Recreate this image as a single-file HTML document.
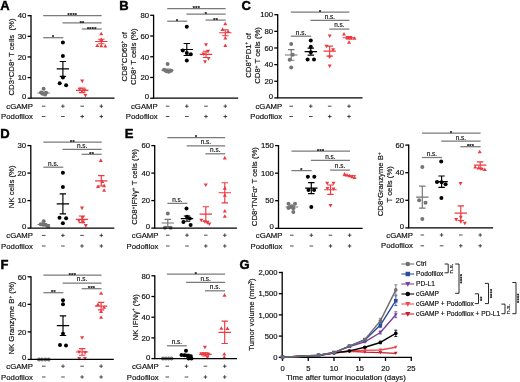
<!DOCTYPE html>
<html><head><meta charset="utf-8"><title>Figure</title>
<style>html,body{margin:0;padding:0;background:#fff}svg{display:block}text{font-family:"Liberation Sans", Arial, sans-serif;white-space:pre;stroke:#111;stroke-width:.18px}text.L{stroke:#000;stroke-width:.45px}</style>
</head><body>
<svg width="520" height="382" viewBox="0 0 520 382" fill="#111">
<rect width="520" height="382" fill="#fff"/>
<line x1="27.60" y1="98.20" x2="31" y2="98.20" stroke="#000" stroke-width="1.3"/>
<text x="26.40" y="99.20" text-anchor="end" font-size="7.75">0</text>
<line x1="27.60" y1="77.58" x2="31" y2="77.58" stroke="#000" stroke-width="1.3"/>
<text x="26.40" y="80.33" text-anchor="end" font-size="7.75">10</text>
<line x1="27.60" y1="56.95" x2="31" y2="56.95" stroke="#000" stroke-width="1.3"/>
<text x="26.40" y="59.70" text-anchor="end" font-size="7.75">20</text>
<line x1="27.60" y1="36.33" x2="31" y2="36.33" stroke="#000" stroke-width="1.3"/>
<text x="26.40" y="39.08" text-anchor="end" font-size="7.75">30</text>
<line x1="27.60" y1="15.70" x2="31" y2="15.70" stroke="#000" stroke-width="1.3"/>
<text x="26.40" y="18.45" text-anchor="end" font-size="7.75">40</text>
<text transform="translate(14.0,56.95) rotate(-90)" text-anchor="middle" font-size="7.75">CD3<tspan dy="-2.5" font-size="4.65">+</tspan><tspan dy="2.5">CD8</tspan><tspan dy="-2.5" font-size="4.65">+</tspan><tspan dy="2.5"> T cells  (%)</tspan></text>
<text x="0.2" y="9.8" class="L" font-size="13" font-weight="bold" fill="#000">A</text>
<circle cx="43.60" cy="88.71" r="2.0" fill="#747474"/>
<circle cx="41.10" cy="92.42" r="2.0" fill="#747474"/>
<circle cx="46.10" cy="92.84" r="2.0" fill="#747474"/>
<circle cx="42.60" cy="93.66" r="2.0" fill="#747474"/>
<circle cx="45.10" cy="94.49" r="2.0" fill="#747474"/>
<path d="M37.40,93.04 H49.80 M43.6,92.01 V94.08 M40.40,92.01 H46.80 M40.40,94.08 H46.80" fill="none" stroke="#747474" stroke-width="1.15"/>
<circle cx="62.90" cy="42.51" r="2.0" fill="#000000"/>
<circle cx="62.90" cy="55.92" r="2.0" fill="#000000"/>
<circle cx="62.90" cy="77.58" r="2.0" fill="#000000"/>
<circle cx="59.70" cy="83.14" r="2.0" fill="#000000"/>
<circle cx="66.10" cy="85.21" r="2.0" fill="#000000"/>
<path d="M56.70,68.91 H69.10 M62.9,61.49 V76.34 M59.70,61.49 H66.10 M59.70,76.34 H66.10" fill="none" stroke="#000000" stroke-width="1.15"/>
<polygon points="80.20,79.59 84.20,79.59 82.20,83.16" fill="#ec3a42"/>
<polygon points="77.70,87.84 81.70,87.84 79.70,91.41" fill="#ec3a42"/>
<polygon points="82.70,88.66 86.70,88.66 84.70,92.23" fill="#ec3a42"/>
<polygon points="80.20,89.90 84.20,89.90 82.20,93.47" fill="#ec3a42"/>
<polygon points="83.40,94.03 87.40,94.03 85.40,97.60" fill="#ec3a42"/>
<path d="M76.00,90.36 H88.40 M82.2,88.09 V92.63 M79.00,88.09 H85.40 M79.00,92.63 H85.40" fill="none" stroke="#ec3a42" stroke-width="1.15"/>
<polygon points="99.30,35.34 103.30,35.34 101.30,31.77" fill="#ec3a42"/>
<polygon points="99.30,41.12 103.30,41.12 101.30,37.55" fill="#ec3a42"/>
<polygon points="95.30,47.10 99.30,47.10 97.30,43.53" fill="#ec3a42"/>
<polygon points="99.30,47.31 103.30,47.31 101.30,43.74" fill="#ec3a42"/>
<polygon points="103.30,47.51 107.30,47.51 105.30,43.94" fill="#ec3a42"/>
<path d="M95.10,41.48 H107.50 M101.3,39.21 V43.75 M98.10,39.21 H104.50 M98.10,43.75 H104.50" fill="none" stroke="#ec3a42" stroke-width="1.15"/>
<line x1="43.20" y1="15.7" x2="101.70" y2="15.7" stroke="#7a7a7a" stroke-width="1.25"/>
<text x="72.45" y="17.35" text-anchor="middle" font-size="5.3" font-weight="bold" letter-spacing="0.35" fill="#111">****</text>
<line x1="62.50" y1="22.9" x2="101.70" y2="22.9" stroke="#7a7a7a" stroke-width="1.25"/>
<text x="82.10" y="24.55" text-anchor="middle" font-size="5.3" font-weight="bold" letter-spacing="0.35" fill="#111">**</text>
<line x1="81.80" y1="29" x2="101.70" y2="29" stroke="#7a7a7a" stroke-width="1.25"/>
<text x="91.75" y="30.65" text-anchor="middle" font-size="5.3" font-weight="bold" letter-spacing="0.35" fill="#111">****</text>
<line x1="43.20" y1="37.7" x2="63.30" y2="37.7" stroke="#7a7a7a" stroke-width="1.25"/>
<text x="53.25" y="39.35" text-anchor="middle" font-size="5.3" font-weight="bold" letter-spacing="0.35" fill="#111">*</text>
<text x="33" y="108.80" text-anchor="end" font-size="7.75">cGAMP</text>
<text x="33" y="119.10" text-anchor="end" font-size="7.75">Podofilox</text>
<line x1="41.80" y1="106.2" x2="45.40" y2="106.2" stroke="#2a2a2a" stroke-width="0.85"/>
<line x1="61.10" y1="106.2" x2="64.70" y2="106.2" stroke="#2a2a2a" stroke-width="0.85"/>
<line x1="62.9" y1="104.40" x2="62.9" y2="108.00" stroke="#2a2a2a" stroke-width="0.85"/>
<line x1="80.40" y1="106.2" x2="84.00" y2="106.2" stroke="#2a2a2a" stroke-width="0.85"/>
<line x1="99.50" y1="106.2" x2="103.10" y2="106.2" stroke="#2a2a2a" stroke-width="0.85"/>
<line x1="101.3" y1="104.40" x2="101.3" y2="108.00" stroke="#2a2a2a" stroke-width="0.85"/>
<line x1="41.80" y1="116.5" x2="45.40" y2="116.5" stroke="#2a2a2a" stroke-width="0.85"/>
<line x1="61.10" y1="116.5" x2="64.70" y2="116.5" stroke="#2a2a2a" stroke-width="0.85"/>
<line x1="80.40" y1="116.5" x2="84.00" y2="116.5" stroke="#2a2a2a" stroke-width="0.85"/>
<line x1="82.2" y1="114.70" x2="82.2" y2="118.30" stroke="#2a2a2a" stroke-width="0.85"/>
<line x1="99.50" y1="116.5" x2="103.10" y2="116.5" stroke="#2a2a2a" stroke-width="0.85"/>
<line x1="101.3" y1="114.70" x2="101.3" y2="118.30" stroke="#2a2a2a" stroke-width="0.85"/>
<line x1="150.20" y1="98.20" x2="153.6" y2="98.20" stroke="#000" stroke-width="1.3"/>
<text x="149.00" y="99.20" text-anchor="end" font-size="7.75">0</text>
<line x1="150.20" y1="77.47" x2="153.6" y2="77.47" stroke="#000" stroke-width="1.3"/>
<text x="149.00" y="80.22" text-anchor="end" font-size="7.75">20</text>
<line x1="150.20" y1="56.75" x2="153.6" y2="56.75" stroke="#000" stroke-width="1.3"/>
<text x="149.00" y="59.50" text-anchor="end" font-size="7.75">40</text>
<line x1="150.20" y1="36.02" x2="153.6" y2="36.02" stroke="#000" stroke-width="1.3"/>
<text x="149.00" y="38.77" text-anchor="end" font-size="7.75">60</text>
<line x1="150.20" y1="15.30" x2="153.6" y2="15.30" stroke="#000" stroke-width="1.3"/>
<text x="149.00" y="18.05" text-anchor="end" font-size="7.75">80</text>
<text transform="translate(126.6,56.75) rotate(-90)" text-anchor="middle" font-size="7.75">CD8<tspan dy="-2.5" font-size="4.65">+</tspan><tspan dy="2.5">CD69</tspan><tspan dy="-2.5" font-size="4.65">+</tspan><tspan dy="2.5"> of</tspan></text>
<text transform="translate(136.4,56.75) rotate(-90)" text-anchor="middle" font-size="7.75">CD8<tspan dy="-2.5" font-size="4.65">+</tspan><tspan dy="2.5"> T cells (%)</tspan></text>
<text x="119.2" y="9.6" class="L" font-size="13" font-weight="bold" fill="#000">B</text>
<circle cx="167.60" cy="64.00" r="2.0" fill="#747474"/>
<circle cx="164.10" cy="69.70" r="2.0" fill="#747474"/>
<circle cx="171.10" cy="70.74" r="2.0" fill="#747474"/>
<circle cx="166.40" cy="71.26" r="2.0" fill="#747474"/>
<circle cx="168.80" cy="71.78" r="2.0" fill="#747474"/>
<path d="M161.40,70.22 H173.80 M167.6,68.98 V71.46 M164.40,68.98 H170.80 M164.40,71.46 H170.80" fill="none" stroke="#747474" stroke-width="1.15"/>
<circle cx="186.80" cy="26.70" r="2.0" fill="#000000"/>
<circle cx="182.80" cy="50.53" r="2.0" fill="#000000"/>
<circle cx="186.80" cy="53.12" r="2.0" fill="#000000"/>
<circle cx="190.80" cy="54.16" r="2.0" fill="#000000"/>
<circle cx="186.80" cy="60.38" r="2.0" fill="#000000"/>
<path d="M180.60,49.50 H193.00 M186.8,43.49 V55.51 M183.60,43.49 H190.00 M183.60,55.51 H190.00" fill="none" stroke="#000000" stroke-width="1.15"/>
<polygon points="204.00,43.13 208.00,43.13 206.00,46.70" fill="#ec3a42"/>
<polygon points="206.00,49.87 210.00,49.87 208.00,53.44" fill="#ec3a42"/>
<polygon points="201.50,52.46 205.50,52.46 203.50,56.03" fill="#ec3a42"/>
<polygon points="206.50,57.12 210.50,57.12 208.50,60.69" fill="#ec3a42"/>
<polygon points="203.00,60.23 207.00,60.23 205.00,63.80" fill="#ec3a42"/>
<path d="M199.80,54.37 H212.20 M206,51.26 V57.48 M202.80,51.26 H209.20 M202.80,57.48 H209.20" fill="none" stroke="#ec3a42" stroke-width="1.15"/>
<polygon points="223.30,25.29 227.30,25.29 225.30,21.72" fill="#ec3a42"/>
<polygon points="220.50,30.89 224.50,30.89 222.50,27.32" fill="#ec3a42"/>
<polygon points="226.10,33.06 230.10,33.06 228.10,29.49" fill="#ec3a42"/>
<polygon points="223.30,39.49 227.30,39.49 225.30,35.92" fill="#ec3a42"/>
<polygon points="223.30,46.95 227.30,46.95 225.30,43.38" fill="#ec3a42"/>
<path d="M219.10,32.71 H231.50 M225.3,29.70 V35.71 M222.10,29.70 H228.50 M222.10,35.71 H228.50" fill="none" stroke="#ec3a42" stroke-width="1.15"/>
<line x1="167.20" y1="8.6" x2="225.70" y2="8.6" stroke="#7a7a7a" stroke-width="1.25"/>
<text x="196.45" y="10.25" text-anchor="middle" font-size="5.3" font-weight="bold" letter-spacing="0.35" fill="#111">***</text>
<line x1="186.40" y1="14.2" x2="225.70" y2="14.2" stroke="#7a7a7a" stroke-width="1.25"/>
<text x="206.05" y="15.85" text-anchor="middle" font-size="5.3" font-weight="bold" letter-spacing="0.35" fill="#111">*</text>
<line x1="167.20" y1="21.2" x2="187.20" y2="21.2" stroke="#7a7a7a" stroke-width="1.25"/>
<text x="177.20" y="22.85" text-anchor="middle" font-size="5.3" font-weight="bold" letter-spacing="0.35" fill="#111">*</text>
<line x1="205.60" y1="20.1" x2="225.70" y2="20.1" stroke="#7a7a7a" stroke-width="1.25"/>
<text x="215.65" y="21.75" text-anchor="middle" font-size="5.3" font-weight="bold" letter-spacing="0.35" fill="#111">**</text>
<text x="157.7" y="108.80" text-anchor="end" font-size="7.75">cGAMP</text>
<text x="157.7" y="119.10" text-anchor="end" font-size="7.75">Podofilox</text>
<line x1="165.80" y1="106.2" x2="169.40" y2="106.2" stroke="#2a2a2a" stroke-width="0.85"/>
<line x1="185.00" y1="106.2" x2="188.60" y2="106.2" stroke="#2a2a2a" stroke-width="0.85"/>
<line x1="186.8" y1="104.40" x2="186.8" y2="108.00" stroke="#2a2a2a" stroke-width="0.85"/>
<line x1="204.20" y1="106.2" x2="207.80" y2="106.2" stroke="#2a2a2a" stroke-width="0.85"/>
<line x1="223.50" y1="106.2" x2="227.10" y2="106.2" stroke="#2a2a2a" stroke-width="0.85"/>
<line x1="225.3" y1="104.40" x2="225.3" y2="108.00" stroke="#2a2a2a" stroke-width="0.85"/>
<line x1="165.80" y1="116.5" x2="169.40" y2="116.5" stroke="#2a2a2a" stroke-width="0.85"/>
<line x1="185.00" y1="116.5" x2="188.60" y2="116.5" stroke="#2a2a2a" stroke-width="0.85"/>
<line x1="204.20" y1="116.5" x2="207.80" y2="116.5" stroke="#2a2a2a" stroke-width="0.85"/>
<line x1="206" y1="114.70" x2="206" y2="118.30" stroke="#2a2a2a" stroke-width="0.85"/>
<line x1="223.50" y1="116.5" x2="227.10" y2="116.5" stroke="#2a2a2a" stroke-width="0.85"/>
<line x1="225.3" y1="114.70" x2="225.3" y2="118.30" stroke="#2a2a2a" stroke-width="0.85"/>
<line x1="274.30" y1="97.90" x2="277.7" y2="97.90" stroke="#000" stroke-width="1.3"/>
<text x="273.10" y="98.90" text-anchor="end" font-size="7.75">0</text>
<line x1="274.30" y1="81.26" x2="277.7" y2="81.26" stroke="#000" stroke-width="1.3"/>
<text x="273.10" y="84.01" text-anchor="end" font-size="7.75">20</text>
<line x1="274.30" y1="64.62" x2="277.7" y2="64.62" stroke="#000" stroke-width="1.3"/>
<text x="273.10" y="67.37" text-anchor="end" font-size="7.75">40</text>
<line x1="274.30" y1="47.98" x2="277.7" y2="47.98" stroke="#000" stroke-width="1.3"/>
<text x="273.10" y="50.73" text-anchor="end" font-size="7.75">60</text>
<line x1="274.30" y1="31.34" x2="277.7" y2="31.34" stroke="#000" stroke-width="1.3"/>
<text x="273.10" y="34.09" text-anchor="end" font-size="7.75">80</text>
<line x1="274.30" y1="14.70" x2="277.7" y2="14.70" stroke="#000" stroke-width="1.3"/>
<text x="273.10" y="17.45" text-anchor="end" font-size="7.75">100</text>
<text transform="translate(250.9,55.4) rotate(-90)" text-anchor="middle" font-size="7.75">CD8<tspan dy="-2.5" font-size="4.65">+</tspan><tspan dy="2.5">PD1</tspan><tspan dy="-2.5" font-size="4.65">+</tspan><tspan dy="2.5"> of</tspan></text>
<text transform="translate(260.3,55.4) rotate(-90)" text-anchor="middle" font-size="7.75">CD8<tspan dy="-2.5" font-size="4.65">+</tspan><tspan dy="2.5"> T cells (%)</tspan></text>
<text x="241.6" y="9.6" class="L" font-size="13" font-weight="bold" fill="#000">C</text>
<circle cx="291.20" cy="43.99" r="2.0" fill="#747474"/>
<circle cx="292.70" cy="54.64" r="2.0" fill="#747474"/>
<circle cx="289.70" cy="59.63" r="2.0" fill="#747474"/>
<circle cx="291.20" cy="67.53" r="2.0" fill="#747474"/>
<path d="M285.00,54.97 H297.40 M291.2,49.64 V60.29 M288.00,49.64 H294.40 M288.00,60.29 H294.40" fill="none" stroke="#747474" stroke-width="1.15"/>
<circle cx="310.80" cy="40.58" r="2.0" fill="#000000"/>
<circle cx="310.80" cy="46.82" r="2.0" fill="#000000"/>
<circle cx="310.80" cy="52.14" r="2.0" fill="#000000"/>
<circle cx="307.60" cy="59.38" r="2.0" fill="#000000"/>
<circle cx="314.00" cy="59.38" r="2.0" fill="#000000"/>
<path d="M304.60,51.56 H317.00 M310.8,48.06 V55.05 M307.60,48.06 H314.00 M307.60,55.05 H314.00" fill="none" stroke="#000000" stroke-width="1.15"/>
<polygon points="327.70,34.47 331.70,34.47 329.70,38.04" fill="#ec3a42"/>
<polygon points="324.50,44.78 328.50,44.78 326.50,48.35" fill="#ec3a42"/>
<polygon points="331.10,48.36 335.10,48.36 333.10,51.93" fill="#ec3a42"/>
<polygon points="327.70,55.43 331.70,55.43 329.70,59.00" fill="#ec3a42"/>
<polygon points="327.70,64.42 331.70,64.42 329.70,67.99" fill="#ec3a42"/>
<path d="M323.50,51.06 H335.90 M329.7,46.07 V56.05 M326.50,46.07 H332.90 M326.50,56.05 H332.90" fill="none" stroke="#ec3a42" stroke-width="1.15"/>
<polygon points="342.00,35.54 346.00,35.54 344.00,31.97" fill="#ec3a42"/>
<polygon points="345.50,39.20 349.50,39.20 347.50,35.63" fill="#ec3a42"/>
<polygon points="349.00,39.45 353.00,39.45 351.00,35.88" fill="#ec3a42"/>
<polygon points="352.50,39.70 356.50,39.70 354.50,36.13" fill="#ec3a42"/>
<polygon points="347.00,43.86 351.00,43.86 349.00,40.29" fill="#ec3a42"/>
<path d="M342.80,37.75 H355.20 M349,36.58 V38.91 M345.80,36.58 H352.20 M345.80,38.91 H352.20" fill="none" stroke="#ec3a42" stroke-width="1.15"/>
<line x1="290.80" y1="12.1" x2="349.40" y2="12.1" stroke="#7a7a7a" stroke-width="1.25"/>
<text x="320.10" y="13.75" text-anchor="middle" font-size="5.3" font-weight="bold" letter-spacing="0.35" fill="#111">*</text>
<line x1="310.40" y1="20.3" x2="349.40" y2="20.3" stroke="#7a7a7a" stroke-width="1.25"/>
<text x="329.90" y="18.60" text-anchor="middle" font-size="6.45" fill="#222">n.s.</text>
<line x1="329.30" y1="29.1" x2="349.40" y2="29.1" stroke="#7a7a7a" stroke-width="1.25"/>
<text x="339.35" y="27.40" text-anchor="middle" font-size="6.45" fill="#222">n.s.</text>
<line x1="290.80" y1="36.2" x2="311.20" y2="36.2" stroke="#7a7a7a" stroke-width="1.25"/>
<text x="301.00" y="34.50" text-anchor="middle" font-size="6.45" fill="#222">n.s.</text>
<text x="282.2" y="108.80" text-anchor="end" font-size="7.75">cGAMP</text>
<text x="282.2" y="119.10" text-anchor="end" font-size="7.75">Podofilox</text>
<line x1="289.40" y1="106.2" x2="293.00" y2="106.2" stroke="#2a2a2a" stroke-width="0.85"/>
<line x1="309.00" y1="106.2" x2="312.60" y2="106.2" stroke="#2a2a2a" stroke-width="0.85"/>
<line x1="310.8" y1="104.40" x2="310.8" y2="108.00" stroke="#2a2a2a" stroke-width="0.85"/>
<line x1="327.90" y1="106.2" x2="331.50" y2="106.2" stroke="#2a2a2a" stroke-width="0.85"/>
<line x1="347.20" y1="106.2" x2="350.80" y2="106.2" stroke="#2a2a2a" stroke-width="0.85"/>
<line x1="349" y1="104.40" x2="349" y2="108.00" stroke="#2a2a2a" stroke-width="0.85"/>
<line x1="289.40" y1="116.5" x2="293.00" y2="116.5" stroke="#2a2a2a" stroke-width="0.85"/>
<line x1="309.00" y1="116.5" x2="312.60" y2="116.5" stroke="#2a2a2a" stroke-width="0.85"/>
<line x1="327.90" y1="116.5" x2="331.50" y2="116.5" stroke="#2a2a2a" stroke-width="0.85"/>
<line x1="329.7" y1="114.70" x2="329.7" y2="118.30" stroke="#2a2a2a" stroke-width="0.85"/>
<line x1="347.20" y1="116.5" x2="350.80" y2="116.5" stroke="#2a2a2a" stroke-width="0.85"/>
<line x1="349" y1="114.70" x2="349" y2="118.30" stroke="#2a2a2a" stroke-width="0.85"/>
<line x1="27.40" y1="228.10" x2="30.8" y2="228.10" stroke="#000" stroke-width="1.3"/>
<text x="26.20" y="229.10" text-anchor="end" font-size="7.75">0</text>
<line x1="27.40" y1="200.60" x2="30.8" y2="200.60" stroke="#000" stroke-width="1.3"/>
<text x="26.20" y="203.35" text-anchor="end" font-size="7.75">10</text>
<line x1="27.40" y1="173.10" x2="30.8" y2="173.10" stroke="#000" stroke-width="1.3"/>
<text x="26.20" y="175.85" text-anchor="end" font-size="7.75">20</text>
<line x1="27.40" y1="145.60" x2="30.8" y2="145.60" stroke="#000" stroke-width="1.3"/>
<text x="26.20" y="148.35" text-anchor="end" font-size="7.75">30</text>
<text transform="translate(13.7,186.85) rotate(-90)" text-anchor="middle" font-size="7.75">NK cells (%)</text>
<text x="0.2" y="138.2" class="L" font-size="13" font-weight="bold" fill="#000">D</text>
<circle cx="43.70" cy="221.22" r="2.0" fill="#747474"/>
<circle cx="40.70" cy="224.25" r="2.0" fill="#747474"/>
<circle cx="43.20" cy="224.80" r="2.0" fill="#747474"/>
<circle cx="46.20" cy="225.35" r="2.0" fill="#747474"/>
<circle cx="48.20" cy="226.45" r="2.0" fill="#747474"/>
<path d="M37.50,224.53 H49.90 M43.7,223.56 V225.49 M40.50,223.56 H46.90 M40.50,225.49 H46.90" fill="none" stroke="#747474" stroke-width="1.15"/>
<circle cx="62.90" cy="172.82" r="2.0" fill="#000000"/>
<circle cx="62.90" cy="187.12" r="2.0" fill="#000000"/>
<circle cx="59.50" cy="217.65" r="2.0" fill="#000000"/>
<circle cx="66.10" cy="218.20" r="2.0" fill="#000000"/>
<circle cx="62.90" cy="223.15" r="2.0" fill="#000000"/>
<path d="M56.70,203.90 H69.10 M62.9,193.86 V213.94 M59.70,193.86 H66.10 M59.70,213.94 H66.10" fill="none" stroke="#000000" stroke-width="1.15"/>
<polygon points="80.00,206.60 84.00,206.60 82.00,210.17" fill="#ec3a42"/>
<polygon points="80.50,215.95 84.50,215.95 82.50,219.52" fill="#ec3a42"/>
<polygon points="77.00,219.25 81.00,219.25 79.00,222.82" fill="#ec3a42"/>
<polygon points="81.00,220.35 85.00,220.35 83.00,223.92" fill="#ec3a42"/>
<polygon points="83.80,224.06 87.80,224.06 85.80,227.63" fill="#ec3a42"/>
<path d="M75.80,219.30 H88.20 M82,216.00 V222.60 M78.80,216.00 H85.20 M78.80,222.60 H85.20" fill="none" stroke="#ec3a42" stroke-width="1.15"/>
<polygon points="98.80,161.88 102.80,161.88 100.80,158.31" fill="#ec3a42"/>
<polygon points="100.30,183.05 104.30,183.05 102.30,179.48" fill="#ec3a42"/>
<polygon points="96.00,188.00 100.00,188.00 98.00,184.43" fill="#ec3a42"/>
<polygon points="102.10,187.17 106.10,187.17 104.10,183.60" fill="#ec3a42"/>
<polygon points="102.10,191.85 106.10,191.85 104.10,188.28" fill="#ec3a42"/>
<path d="M95.10,180.80 H107.50 M101.3,175.57 V186.02 M98.10,175.57 H104.50 M98.10,186.02 H104.50" fill="none" stroke="#ec3a42" stroke-width="1.15"/>
<line x1="43.30" y1="142" x2="101.70" y2="142" stroke="#7a7a7a" stroke-width="1.25"/>
<text x="72.50" y="143.65" text-anchor="middle" font-size="5.3" font-weight="bold" letter-spacing="0.35" fill="#111">**</text>
<line x1="62.50" y1="149.4" x2="101.70" y2="149.4" stroke="#7a7a7a" stroke-width="1.25"/>
<text x="82.10" y="147.70" text-anchor="middle" font-size="6.45" fill="#222">n.s.</text>
<line x1="81.60" y1="154.3" x2="101.70" y2="154.3" stroke="#7a7a7a" stroke-width="1.25"/>
<text x="91.65" y="155.95" text-anchor="middle" font-size="5.3" font-weight="bold" letter-spacing="0.35" fill="#111">**</text>
<line x1="43.30" y1="167.2" x2="63.30" y2="167.2" stroke="#7a7a7a" stroke-width="1.25"/>
<text x="53.30" y="165.50" text-anchor="middle" font-size="6.45" fill="#222">n.s.</text>
<text x="33" y="238.00" text-anchor="end" font-size="7.75">cGAMP</text>
<text x="33" y="248.60" text-anchor="end" font-size="7.75">Podofilox</text>
<line x1="41.90" y1="235.4" x2="45.50" y2="235.4" stroke="#2a2a2a" stroke-width="0.85"/>
<line x1="61.10" y1="235.4" x2="64.70" y2="235.4" stroke="#2a2a2a" stroke-width="0.85"/>
<line x1="62.9" y1="233.60" x2="62.9" y2="237.20" stroke="#2a2a2a" stroke-width="0.85"/>
<line x1="80.20" y1="235.4" x2="83.80" y2="235.4" stroke="#2a2a2a" stroke-width="0.85"/>
<line x1="99.50" y1="235.4" x2="103.10" y2="235.4" stroke="#2a2a2a" stroke-width="0.85"/>
<line x1="101.3" y1="233.60" x2="101.3" y2="237.20" stroke="#2a2a2a" stroke-width="0.85"/>
<line x1="41.90" y1="246" x2="45.50" y2="246" stroke="#2a2a2a" stroke-width="0.85"/>
<line x1="61.10" y1="246" x2="64.70" y2="246" stroke="#2a2a2a" stroke-width="0.85"/>
<line x1="80.20" y1="246" x2="83.80" y2="246" stroke="#2a2a2a" stroke-width="0.85"/>
<line x1="82" y1="244.20" x2="82" y2="247.80" stroke="#2a2a2a" stroke-width="0.85"/>
<line x1="99.50" y1="246" x2="103.10" y2="246" stroke="#2a2a2a" stroke-width="0.85"/>
<line x1="101.3" y1="244.20" x2="101.3" y2="247.80" stroke="#2a2a2a" stroke-width="0.85"/>
<line x1="151.30" y1="228.10" x2="154.7" y2="228.10" stroke="#000" stroke-width="1.3"/>
<text x="150.10" y="229.10" text-anchor="end" font-size="7.75">0</text>
<line x1="151.30" y1="200.60" x2="154.7" y2="200.60" stroke="#000" stroke-width="1.3"/>
<text x="150.10" y="203.35" text-anchor="end" font-size="7.75">20</text>
<line x1="151.30" y1="173.10" x2="154.7" y2="173.10" stroke="#000" stroke-width="1.3"/>
<text x="150.10" y="175.85" text-anchor="end" font-size="7.75">40</text>
<line x1="151.30" y1="145.60" x2="154.7" y2="145.60" stroke="#000" stroke-width="1.3"/>
<text x="150.10" y="148.35" text-anchor="end" font-size="7.75">60</text>
<text transform="translate(137.4,186.85) rotate(-90)" text-anchor="middle" font-size="7.75">CD8<tspan dy="-2.5" font-size="4.65">+</tspan><tspan dy="2.5">IFNγ</tspan><tspan dy="-2.5" font-size="4.65">+</tspan><tspan dy="2.5"> T cells (%)</tspan></text>
<text x="124.8" y="138.2" class="L" font-size="13" font-weight="bold" fill="#000">E</text>
<circle cx="167.80" cy="213.39" r="2.0" fill="#747474"/>
<circle cx="165.00" cy="227.69" r="2.0" fill="#747474"/>
<circle cx="170.60" cy="227.82" r="2.0" fill="#747474"/>
<path d="M161.60,223.01 H174.00 M167.8,219.44 V226.59 M164.60,219.44 H171.00 M164.60,226.59 H171.00" fill="none" stroke="#747474" stroke-width="1.15"/>
<circle cx="186.50" cy="208.44" r="2.0" fill="#000000"/>
<circle cx="187.00" cy="216.69" r="2.0" fill="#000000"/>
<circle cx="189.80" cy="218.47" r="2.0" fill="#000000"/>
<circle cx="183.40" cy="221.91" r="2.0" fill="#000000"/>
<circle cx="190.60" cy="224.94" r="2.0" fill="#000000"/>
<path d="M180.80,218.61 H193.20 M187,216.00 V221.22 M183.80,216.00 H190.20 M183.80,221.22 H190.20" fill="none" stroke="#000000" stroke-width="1.15"/>
<polygon points="203.80,183.50 207.80,183.50 205.80,187.07" fill="#ec3a42"/>
<polygon points="199.30,218.70 203.30,218.70 201.30,222.27" fill="#ec3a42"/>
<polygon points="202.80,220.21 206.80,220.21 204.80,223.78" fill="#ec3a42"/>
<polygon points="205.30,221.18 209.30,221.18 207.30,224.75" fill="#ec3a42"/>
<polygon points="207.30,222.41 211.30,222.41 209.30,225.98" fill="#ec3a42"/>
<path d="M199.60,214.07 H212.00 M205.8,206.79 V221.36 M202.60,206.79 H209.00 M202.60,221.36 H209.00" fill="none" stroke="#ec3a42" stroke-width="1.15"/>
<polygon points="222.80,159.40 226.80,159.40 224.80,155.83" fill="#ec3a42"/>
<polygon points="222.80,189.65 226.80,189.65 224.80,186.08" fill="#ec3a42"/>
<polygon points="222.80,196.80 226.80,196.80 224.80,193.23" fill="#ec3a42"/>
<polygon points="222.80,212.61 226.80,212.61 224.80,209.04" fill="#ec3a42"/>
<polygon points="222.80,217.84 226.80,217.84 224.80,214.27" fill="#ec3a42"/>
<path d="M218.60,192.76 H231.00 M224.8,182.72 V202.80 M221.60,182.72 H228.00 M221.60,202.80 H228.00" fill="none" stroke="#ec3a42" stroke-width="1.15"/>
<line x1="167.40" y1="137.6" x2="225.20" y2="137.6" stroke="#7a7a7a" stroke-width="1.25"/>
<text x="196.30" y="139.25" text-anchor="middle" font-size="5.3" font-weight="bold" letter-spacing="0.35" fill="#111">*</text>
<line x1="186.60" y1="145.9" x2="225.20" y2="145.9" stroke="#7a7a7a" stroke-width="1.25"/>
<text x="205.90" y="144.20" text-anchor="middle" font-size="6.45" fill="#222">n.s.</text>
<line x1="205.40" y1="153.8" x2="225.20" y2="153.8" stroke="#7a7a7a" stroke-width="1.25"/>
<text x="215.30" y="152.10" text-anchor="middle" font-size="6.45" fill="#222">n.s.</text>
<line x1="167.40" y1="203.4" x2="187.40" y2="203.4" stroke="#7a7a7a" stroke-width="1.25"/>
<text x="177.40" y="201.70" text-anchor="middle" font-size="6.45" fill="#222">n.s.</text>
<text x="158.5" y="237.80" text-anchor="end" font-size="7.75">cGAMP</text>
<text x="158.5" y="248.60" text-anchor="end" font-size="7.75">Podofilox</text>
<line x1="166.00" y1="235.2" x2="169.60" y2="235.2" stroke="#2a2a2a" stroke-width="0.85"/>
<line x1="185.20" y1="235.2" x2="188.80" y2="235.2" stroke="#2a2a2a" stroke-width="0.85"/>
<line x1="187" y1="233.40" x2="187" y2="237.00" stroke="#2a2a2a" stroke-width="0.85"/>
<line x1="204.00" y1="235.2" x2="207.60" y2="235.2" stroke="#2a2a2a" stroke-width="0.85"/>
<line x1="223.00" y1="235.2" x2="226.60" y2="235.2" stroke="#2a2a2a" stroke-width="0.85"/>
<line x1="224.8" y1="233.40" x2="224.8" y2="237.00" stroke="#2a2a2a" stroke-width="0.85"/>
<line x1="166.00" y1="246" x2="169.60" y2="246" stroke="#2a2a2a" stroke-width="0.85"/>
<line x1="185.20" y1="246" x2="188.80" y2="246" stroke="#2a2a2a" stroke-width="0.85"/>
<line x1="204.00" y1="246" x2="207.60" y2="246" stroke="#2a2a2a" stroke-width="0.85"/>
<line x1="205.8" y1="244.20" x2="205.8" y2="247.80" stroke="#2a2a2a" stroke-width="0.85"/>
<line x1="223.00" y1="246" x2="226.60" y2="246" stroke="#2a2a2a" stroke-width="0.85"/>
<line x1="224.8" y1="244.20" x2="224.8" y2="247.80" stroke="#2a2a2a" stroke-width="0.85"/>
<line x1="275.10" y1="228.30" x2="278.5" y2="228.30" stroke="#000" stroke-width="1.3"/>
<text x="273.90" y="229.30" text-anchor="end" font-size="7.75">0</text>
<line x1="275.10" y1="200.73" x2="278.5" y2="200.73" stroke="#000" stroke-width="1.3"/>
<text x="273.90" y="203.48" text-anchor="end" font-size="7.75">50</text>
<line x1="275.10" y1="173.17" x2="278.5" y2="173.17" stroke="#000" stroke-width="1.3"/>
<text x="273.90" y="175.92" text-anchor="end" font-size="7.75">100</text>
<line x1="275.10" y1="145.60" x2="278.5" y2="145.60" stroke="#000" stroke-width="1.3"/>
<text x="273.90" y="148.35" text-anchor="end" font-size="7.75">150</text>
<text transform="translate(257.1,186.6) rotate(-90)" text-anchor="middle" font-size="7.75">CD8<tspan dy="-2.5" font-size="4.65">+</tspan><tspan dy="2.5">TNFα</tspan><tspan dy="-2.5" font-size="4.65">+</tspan><tspan dy="2.5"> T cells (%)</tspan></text>
<circle cx="288.50" cy="203.77" r="2.0" fill="#747474"/>
<circle cx="295.00" cy="203.77" r="2.0" fill="#747474"/>
<circle cx="291.80" cy="206.25" r="2.0" fill="#747474"/>
<circle cx="288.50" cy="207.90" r="2.0" fill="#747474"/>
<circle cx="293.30" cy="208.18" r="2.0" fill="#747474"/>
<circle cx="293.30" cy="211.98" r="2.0" fill="#747474"/>
<path d="M285.60,206.96 H298.00 M291.8,205.75 V208.18 M288.60,205.75 H295.00 M288.60,208.18 H295.00" fill="none" stroke="#747474" stroke-width="1.15"/>
<circle cx="307.90" cy="176.86" r="2.0" fill="#000000"/>
<circle cx="314.30" cy="176.86" r="2.0" fill="#000000"/>
<circle cx="308.50" cy="189.93" r="2.0" fill="#000000"/>
<circle cx="314.10" cy="189.93" r="2.0" fill="#000000"/>
<circle cx="311.30" cy="207.07" r="2.0" fill="#000000"/>
<path d="M305.10,188.11 H317.50 M311.3,182.59 V193.62 M308.10,182.59 H314.50 M308.10,193.62 H314.50" fill="none" stroke="#000000" stroke-width="1.15"/>
<polygon points="325.20,181.78 329.20,181.78 327.20,185.35" fill="#ec3a42"/>
<polygon points="331.50,181.78 335.50,181.78 333.50,185.35" fill="#ec3a42"/>
<polygon points="325.50,186.90 329.50,186.90 327.50,190.47" fill="#ec3a42"/>
<polygon points="331.50,187.46 335.50,187.46 333.50,191.03" fill="#ec3a42"/>
<polygon points="328.50,203.89 332.50,203.89 330.50,207.46" fill="#ec3a42"/>
<path d="M324.30,189.71 H336.70 M330.5,185.02 V194.39 M327.30,185.02 H333.70 M327.30,194.39 H333.70" fill="none" stroke="#ec3a42" stroke-width="1.15"/>
<polygon points="342.60,175.69 346.60,175.69 344.60,172.12" fill="#ec3a42"/>
<polygon points="345.10,176.52 349.10,176.52 347.10,172.95" fill="#ec3a42"/>
<polygon points="347.60,177.35 351.60,177.35 349.60,173.78" fill="#ec3a42"/>
<polygon points="350.10,178.17 354.10,178.17 352.10,174.60" fill="#ec3a42"/>
<polygon points="352.60,179.00 356.60,179.00 354.60,175.43" fill="#ec3a42"/>
<path d="M343.40,175.65 H355.80" fill="none" stroke="#ec3a42" stroke-width="1.15"/>
<line x1="291.40" y1="151.2" x2="350.00" y2="151.2" stroke="#7a7a7a" stroke-width="1.25"/>
<text x="320.70" y="152.85" text-anchor="middle" font-size="5.3" font-weight="bold" letter-spacing="0.35" fill="#111">***</text>
<line x1="310.90" y1="160.3" x2="350.00" y2="160.3" stroke="#7a7a7a" stroke-width="1.25"/>
<text x="330.45" y="158.60" text-anchor="middle" font-size="6.45" fill="#222">n.s.</text>
<line x1="330.10" y1="170.1" x2="350.00" y2="170.1" stroke="#7a7a7a" stroke-width="1.25"/>
<text x="340.05" y="168.40" text-anchor="middle" font-size="6.45" fill="#222">n.s.</text>
<line x1="291.40" y1="170.6" x2="311.70" y2="170.6" stroke="#7a7a7a" stroke-width="1.25"/>
<text x="301.55" y="172.25" text-anchor="middle" font-size="5.3" font-weight="bold" letter-spacing="0.35" fill="#111">*</text>
<text x="282.5" y="237.80" text-anchor="end" font-size="7.75">cGAMP</text>
<text x="282.5" y="248.60" text-anchor="end" font-size="7.75">Podofilox</text>
<line x1="290.00" y1="235.2" x2="293.60" y2="235.2" stroke="#2a2a2a" stroke-width="0.85"/>
<line x1="309.50" y1="235.2" x2="313.10" y2="235.2" stroke="#2a2a2a" stroke-width="0.85"/>
<line x1="311.3" y1="233.40" x2="311.3" y2="237.00" stroke="#2a2a2a" stroke-width="0.85"/>
<line x1="328.70" y1="235.2" x2="332.30" y2="235.2" stroke="#2a2a2a" stroke-width="0.85"/>
<line x1="347.80" y1="235.2" x2="351.40" y2="235.2" stroke="#2a2a2a" stroke-width="0.85"/>
<line x1="349.6" y1="233.40" x2="349.6" y2="237.00" stroke="#2a2a2a" stroke-width="0.85"/>
<line x1="290.00" y1="246" x2="293.60" y2="246" stroke="#2a2a2a" stroke-width="0.85"/>
<line x1="309.50" y1="246" x2="313.10" y2="246" stroke="#2a2a2a" stroke-width="0.85"/>
<line x1="328.70" y1="246" x2="332.30" y2="246" stroke="#2a2a2a" stroke-width="0.85"/>
<line x1="330.5" y1="244.20" x2="330.5" y2="247.80" stroke="#2a2a2a" stroke-width="0.85"/>
<line x1="347.80" y1="246" x2="351.40" y2="246" stroke="#2a2a2a" stroke-width="0.85"/>
<line x1="349.6" y1="244.20" x2="349.6" y2="247.80" stroke="#2a2a2a" stroke-width="0.85"/>
<line x1="405.30" y1="227.90" x2="408.7" y2="227.90" stroke="#000" stroke-width="1.3"/>
<text x="404.10" y="228.90" text-anchor="end" font-size="7.75">0</text>
<line x1="405.30" y1="200.30" x2="408.7" y2="200.30" stroke="#000" stroke-width="1.3"/>
<text x="404.10" y="203.05" text-anchor="end" font-size="7.75">20</text>
<line x1="405.30" y1="172.70" x2="408.7" y2="172.70" stroke="#000" stroke-width="1.3"/>
<text x="404.10" y="175.45" text-anchor="end" font-size="7.75">40</text>
<line x1="405.30" y1="145.10" x2="408.7" y2="145.10" stroke="#000" stroke-width="1.3"/>
<text x="404.10" y="147.85" text-anchor="end" font-size="7.75">60</text>
<text transform="translate(383.4,184.3) rotate(-90)" text-anchor="middle" font-size="7.75">CD8<tspan dy="-2.5" font-size="4.65">+</tspan><tspan dy="2.5">Granzyme B</tspan><tspan dy="-2.5" font-size="4.65">+</tspan></text>
<text transform="translate(391.9,184.3) rotate(-90)" text-anchor="middle" font-size="7.75">T cells (%)</text>
<circle cx="422.30" cy="166.90" r="2.0" fill="#747474"/>
<circle cx="419.10" cy="200.30" r="2.0" fill="#747474"/>
<circle cx="425.50" cy="202.65" r="2.0" fill="#747474"/>
<circle cx="422.30" cy="218.93" r="2.0" fill="#747474"/>
<path d="M416.10,197.13 H428.50 M422.3,186.09 V208.17 M419.10,186.09 H425.50 M419.10,208.17 H425.50" fill="none" stroke="#747474" stroke-width="1.15"/>
<circle cx="441.20" cy="161.38" r="2.0" fill="#000000"/>
<circle cx="437.00" cy="181.95" r="2.0" fill="#000000"/>
<circle cx="441.60" cy="182.36" r="2.0" fill="#000000"/>
<circle cx="445.60" cy="184.29" r="2.0" fill="#000000"/>
<circle cx="441.40" cy="198.09" r="2.0" fill="#000000"/>
<path d="M435.40,181.67 H447.80 M441.6,176.01 V187.33 M438.40,176.01 H444.80 M438.40,187.33 H444.80" fill="none" stroke="#000000" stroke-width="1.15"/>
<polygon points="458.50,182.04 462.50,182.04 460.50,185.61" fill="#ec3a42"/>
<polygon points="458.80,215.71 462.80,215.71 460.80,219.28" fill="#ec3a42"/>
<polygon points="454.20,218.06 458.20,218.06 456.20,221.63" fill="#ec3a42"/>
<polygon points="458.80,220.27 462.80,220.27 460.80,223.84" fill="#ec3a42"/>
<polygon points="462.80,221.78 466.80,221.78 464.80,225.35" fill="#ec3a42"/>
<path d="M454.60,213.13 H467.00 M460.8,205.82 V220.45 M457.60,205.82 H464.00 M457.60,220.45 H464.00" fill="none" stroke="#ec3a42" stroke-width="1.15"/>
<polygon points="477.70,153.29 481.70,153.29 479.70,149.72" fill="#ec3a42"/>
<polygon points="473.20,168.60 477.20,168.60 475.20,165.03" fill="#ec3a42"/>
<polygon points="476.70,169.43 480.70,169.43 478.70,165.86" fill="#ec3a42"/>
<polygon points="479.70,170.26 483.70,170.26 481.70,166.69" fill="#ec3a42"/>
<polygon points="482.80,170.95 486.80,170.95 484.80,167.38" fill="#ec3a42"/>
<path d="M474.00,165.11 H486.40 M480.2,161.80 V168.42 M477.00,161.80 H483.40 M477.00,168.42 H483.40" fill="none" stroke="#ec3a42" stroke-width="1.15"/>
<line x1="421.90" y1="133.2" x2="480.60" y2="133.2" stroke="#7a7a7a" stroke-width="1.25"/>
<text x="451.25" y="134.85" text-anchor="middle" font-size="5.3" font-weight="bold" letter-spacing="0.35" fill="#111">*</text>
<line x1="441.20" y1="141.2" x2="480.60" y2="141.2" stroke="#7a7a7a" stroke-width="1.25"/>
<text x="460.90" y="139.50" text-anchor="middle" font-size="6.45" fill="#222">n.s.</text>
<line x1="460.40" y1="146.7" x2="480.60" y2="146.7" stroke="#7a7a7a" stroke-width="1.25"/>
<text x="470.50" y="148.35" text-anchor="middle" font-size="5.3" font-weight="bold" letter-spacing="0.35" fill="#111">***</text>
<line x1="421.90" y1="157.5" x2="442.00" y2="157.5" stroke="#7a7a7a" stroke-width="1.25"/>
<text x="431.95" y="155.80" text-anchor="middle" font-size="6.45" fill="#222">n.s.</text>
<text x="413" y="237.60" text-anchor="end" font-size="7.75">cGAMP</text>
<text x="413" y="248.40" text-anchor="end" font-size="7.75">Podofilox</text>
<line x1="420.50" y1="235" x2="424.10" y2="235" stroke="#2a2a2a" stroke-width="0.85"/>
<line x1="439.80" y1="235" x2="443.40" y2="235" stroke="#2a2a2a" stroke-width="0.85"/>
<line x1="441.6" y1="233.20" x2="441.6" y2="236.80" stroke="#2a2a2a" stroke-width="0.85"/>
<line x1="459.00" y1="235" x2="462.60" y2="235" stroke="#2a2a2a" stroke-width="0.85"/>
<line x1="478.40" y1="235" x2="482.00" y2="235" stroke="#2a2a2a" stroke-width="0.85"/>
<line x1="480.2" y1="233.20" x2="480.2" y2="236.80" stroke="#2a2a2a" stroke-width="0.85"/>
<line x1="420.50" y1="245.8" x2="424.10" y2="245.8" stroke="#2a2a2a" stroke-width="0.85"/>
<line x1="439.80" y1="245.8" x2="443.40" y2="245.8" stroke="#2a2a2a" stroke-width="0.85"/>
<line x1="459.00" y1="245.8" x2="462.60" y2="245.8" stroke="#2a2a2a" stroke-width="0.85"/>
<line x1="460.8" y1="244.00" x2="460.8" y2="247.60" stroke="#2a2a2a" stroke-width="0.85"/>
<line x1="478.40" y1="245.8" x2="482.00" y2="245.8" stroke="#2a2a2a" stroke-width="0.85"/>
<line x1="480.2" y1="244.00" x2="480.2" y2="247.60" stroke="#2a2a2a" stroke-width="0.85"/>
<line x1="27.60" y1="359.40" x2="31" y2="359.40" stroke="#000" stroke-width="1.3"/>
<text x="26.40" y="360.40" text-anchor="end" font-size="7.75">0</text>
<line x1="27.60" y1="331.87" x2="31" y2="331.87" stroke="#000" stroke-width="1.3"/>
<text x="26.40" y="334.62" text-anchor="end" font-size="7.75">20</text>
<line x1="27.60" y1="304.33" x2="31" y2="304.33" stroke="#000" stroke-width="1.3"/>
<text x="26.40" y="307.08" text-anchor="end" font-size="7.75">40</text>
<line x1="27.60" y1="276.80" x2="31" y2="276.80" stroke="#000" stroke-width="1.3"/>
<text x="26.40" y="279.55" text-anchor="end" font-size="7.75">60</text>
<text transform="translate(14.0,318.1) rotate(-90)" text-anchor="middle" font-size="7.75">NK Granzyme B<tspan dy="-2.5" font-size="4.65">+</tspan><tspan dy="2.5"> (%)</tspan></text>
<text x="0.4" y="268.7" class="L" font-size="13" font-weight="bold" fill="#000">F</text>
<circle cx="39.00" cy="359.40" r="2.0" fill="#747474"/>
<circle cx="42.00" cy="359.40" r="2.0" fill="#747474"/>
<circle cx="45.40" cy="359.40" r="2.0" fill="#747474"/>
<circle cx="48.60" cy="359.40" r="2.0" fill="#747474"/>
<circle cx="63.00" cy="300.20" r="2.0" fill="#000000"/>
<circle cx="63.00" cy="304.33" r="2.0" fill="#000000"/>
<circle cx="63.00" cy="333.66" r="2.0" fill="#000000"/>
<circle cx="60.00" cy="344.94" r="2.0" fill="#000000"/>
<circle cx="66.00" cy="345.50" r="2.0" fill="#000000"/>
<path d="M56.80,325.67 H69.20 M63,315.90 V335.45 M59.80,315.90 H66.20 M59.80,335.45 H66.20" fill="none" stroke="#000000" stroke-width="1.15"/>
<polygon points="80.10,336.22 84.10,336.22 82.10,339.79" fill="#ec3a42"/>
<polygon points="77.10,350.54 81.10,350.54 79.10,354.11" fill="#ec3a42"/>
<polygon points="83.10,351.09 87.10,351.09 85.10,354.66" fill="#ec3a42"/>
<polygon points="77.20,357.01 81.20,357.01 79.20,360.58" fill="#ec3a42"/>
<polygon points="82.90,357.01 86.90,357.01 84.90,360.58" fill="#ec3a42"/>
<path d="M75.90,351.97 H88.30 M82.1,348.66 V355.27 M78.90,348.66 H85.30 M78.90,355.27 H85.30" fill="none" stroke="#ec3a42" stroke-width="1.15"/>
<polygon points="99.10,294.74 103.10,294.74 101.10,291.17" fill="#ec3a42"/>
<polygon points="95.90,306.03 99.90,306.03 97.90,302.46" fill="#ec3a42"/>
<polygon points="102.10,308.79 106.10,308.79 104.10,305.22" fill="#ec3a42"/>
<polygon points="99.10,312.92 103.10,312.92 101.10,309.35" fill="#ec3a42"/>
<polygon points="99.10,318.70 103.10,318.70 101.10,315.13" fill="#ec3a42"/>
<path d="M94.90,306.12 H107.30 M101.1,302.41 V309.84 M97.90,302.41 H104.30 M97.90,309.84 H104.30" fill="none" stroke="#ec3a42" stroke-width="1.15"/>
<line x1="43.40" y1="275" x2="101.50" y2="275" stroke="#7a7a7a" stroke-width="1.25"/>
<text x="72.45" y="276.65" text-anchor="middle" font-size="5.3" font-weight="bold" letter-spacing="0.35" fill="#111">***</text>
<line x1="62.60" y1="283.1" x2="101.50" y2="283.1" stroke="#7a7a7a" stroke-width="1.25"/>
<text x="82.05" y="281.40" text-anchor="middle" font-size="6.45" fill="#222">n.s.</text>
<line x1="81.70" y1="288.7" x2="101.50" y2="288.7" stroke="#7a7a7a" stroke-width="1.25"/>
<text x="91.60" y="290.35" text-anchor="middle" font-size="5.3" font-weight="bold" letter-spacing="0.35" fill="#111">***</text>
<line x1="43.40" y1="292.7" x2="63.40" y2="292.7" stroke="#7a7a7a" stroke-width="1.25"/>
<text x="53.40" y="294.35" text-anchor="middle" font-size="5.3" font-weight="bold" letter-spacing="0.35" fill="#111">**</text>
<text x="33" y="368.80" text-anchor="end" font-size="7.75">cGAMP</text>
<text x="33" y="379.60" text-anchor="end" font-size="7.75">Podofilox</text>
<line x1="42.00" y1="366.2" x2="45.60" y2="366.2" stroke="#2a2a2a" stroke-width="0.85"/>
<line x1="61.20" y1="366.2" x2="64.80" y2="366.2" stroke="#2a2a2a" stroke-width="0.85"/>
<line x1="63" y1="364.40" x2="63" y2="368.00" stroke="#2a2a2a" stroke-width="0.85"/>
<line x1="80.30" y1="366.2" x2="83.90" y2="366.2" stroke="#2a2a2a" stroke-width="0.85"/>
<line x1="99.30" y1="366.2" x2="102.90" y2="366.2" stroke="#2a2a2a" stroke-width="0.85"/>
<line x1="101.1" y1="364.40" x2="101.1" y2="368.00" stroke="#2a2a2a" stroke-width="0.85"/>
<line x1="42.00" y1="377" x2="45.60" y2="377" stroke="#2a2a2a" stroke-width="0.85"/>
<line x1="61.20" y1="377" x2="64.80" y2="377" stroke="#2a2a2a" stroke-width="0.85"/>
<line x1="80.30" y1="377" x2="83.90" y2="377" stroke="#2a2a2a" stroke-width="0.85"/>
<line x1="82.1" y1="375.20" x2="82.1" y2="378.80" stroke="#2a2a2a" stroke-width="0.85"/>
<line x1="99.30" y1="377" x2="102.90" y2="377" stroke="#2a2a2a" stroke-width="0.85"/>
<line x1="101.1" y1="375.20" x2="101.1" y2="378.80" stroke="#2a2a2a" stroke-width="0.85"/>
<line x1="151.40" y1="358.60" x2="154.8" y2="358.60" stroke="#000" stroke-width="1.3"/>
<text x="150.20" y="359.60" text-anchor="end" font-size="7.75">0</text>
<line x1="151.40" y1="337.90" x2="154.8" y2="337.90" stroke="#000" stroke-width="1.3"/>
<text x="150.20" y="340.65" text-anchor="end" font-size="7.75">20</text>
<line x1="151.40" y1="317.20" x2="154.8" y2="317.20" stroke="#000" stroke-width="1.3"/>
<text x="150.20" y="319.95" text-anchor="end" font-size="7.75">40</text>
<line x1="151.40" y1="296.50" x2="154.8" y2="296.50" stroke="#000" stroke-width="1.3"/>
<text x="150.20" y="299.25" text-anchor="end" font-size="7.75">60</text>
<line x1="151.40" y1="275.80" x2="154.8" y2="275.80" stroke="#000" stroke-width="1.3"/>
<text x="150.20" y="278.55" text-anchor="end" font-size="7.75">80</text>
<text transform="translate(137.6,317.20000000000005) rotate(-90)" text-anchor="middle" font-size="7.75">NK IFNγ<tspan dy="-2.5" font-size="4.65">+</tspan><tspan dy="2.5"> (%)</tspan></text>
<circle cx="163.00" cy="358.60" r="2.0" fill="#747474"/>
<circle cx="165.80" cy="358.60" r="2.0" fill="#747474"/>
<circle cx="168.70" cy="358.60" r="2.0" fill="#747474"/>
<circle cx="171.50" cy="358.60" r="2.0" fill="#747474"/>
<circle cx="186.00" cy="350.63" r="2.0" fill="#000000"/>
<circle cx="181.50" cy="354.98" r="2.0" fill="#000000"/>
<circle cx="184.50" cy="355.18" r="2.0" fill="#000000"/>
<circle cx="187.50" cy="356.01" r="2.0" fill="#000000"/>
<circle cx="190.50" cy="356.22" r="2.0" fill="#000000"/>
<circle cx="188.50" cy="358.60" r="2.0" fill="#000000"/>
<circle cx="191.50" cy="358.60" r="2.0" fill="#000000"/>
<path d="M180.30,355.29 H192.70 M186.5,354.25 V356.32 M183.30,354.25 H189.70 M183.30,356.32 H189.70" fill="none" stroke="#000000" stroke-width="1.15"/>
<polygon points="202.90,345.72 206.90,345.72 204.90,349.29" fill="#ec3a42"/>
<polygon points="199.40,352.35 203.40,352.35 201.40,355.92" fill="#ec3a42"/>
<polygon points="202.40,352.55 206.40,352.55 204.40,356.12" fill="#ec3a42"/>
<polygon points="206.40,352.76 210.40,352.76 208.40,356.33" fill="#ec3a42"/>
<polygon points="205.40,355.87 209.40,355.87 207.40,359.44" fill="#ec3a42"/>
<path d="M199.20,354.36 H211.60 M205.4,352.91 V355.81 M202.20,352.91 H208.60 M202.20,355.81 H208.60" fill="none" stroke="#ec3a42" stroke-width="1.15"/>
<polygon points="222.50,296.65 226.50,296.65 224.50,293.08" fill="#ec3a42"/>
<polygon points="219.30,329.87 223.30,329.87 221.30,326.30" fill="#ec3a42"/>
<polygon points="225.50,329.97 229.50,329.97 227.50,326.40" fill="#ec3a42"/>
<polygon points="222.30,355.54 226.30,355.54 224.30,351.97" fill="#ec3a42"/>
<polygon points="222.30,358.85 226.30,358.85 224.30,355.28" fill="#ec3a42"/>
<path d="M218.50,332.31 H230.90 M224.7,321.13 V343.49 M221.50,321.13 H227.90 M221.50,343.49 H227.90" fill="none" stroke="#ec3a42" stroke-width="1.15"/>
<line x1="166.90" y1="274.2" x2="225.10" y2="274.2" stroke="#7a7a7a" stroke-width="1.25"/>
<text x="196.00" y="275.85" text-anchor="middle" font-size="5.3" font-weight="bold" letter-spacing="0.35" fill="#111">*</text>
<line x1="186.10" y1="282.4" x2="225.10" y2="282.4" stroke="#7a7a7a" stroke-width="1.25"/>
<text x="205.60" y="280.70" text-anchor="middle" font-size="6.45" fill="#222">n.s.</text>
<line x1="205.00" y1="290.8" x2="225.10" y2="290.8" stroke="#7a7a7a" stroke-width="1.25"/>
<text x="215.05" y="289.10" text-anchor="middle" font-size="6.45" fill="#222">n.s.</text>
<line x1="166.90" y1="345.8" x2="186.90" y2="345.8" stroke="#7a7a7a" stroke-width="1.25"/>
<text x="176.90" y="344.10" text-anchor="middle" font-size="6.45" fill="#222">n.s.</text>
<text x="158.7" y="368.80" text-anchor="end" font-size="7.75">cGAMP</text>
<text x="158.7" y="379.60" text-anchor="end" font-size="7.75">Podofilox</text>
<line x1="165.50" y1="366.2" x2="169.10" y2="366.2" stroke="#2a2a2a" stroke-width="0.85"/>
<line x1="184.70" y1="366.2" x2="188.30" y2="366.2" stroke="#2a2a2a" stroke-width="0.85"/>
<line x1="186.5" y1="364.40" x2="186.5" y2="368.00" stroke="#2a2a2a" stroke-width="0.85"/>
<line x1="203.60" y1="366.2" x2="207.20" y2="366.2" stroke="#2a2a2a" stroke-width="0.85"/>
<line x1="222.90" y1="366.2" x2="226.50" y2="366.2" stroke="#2a2a2a" stroke-width="0.85"/>
<line x1="224.7" y1="364.40" x2="224.7" y2="368.00" stroke="#2a2a2a" stroke-width="0.85"/>
<line x1="165.50" y1="377" x2="169.10" y2="377" stroke="#2a2a2a" stroke-width="0.85"/>
<line x1="184.70" y1="377" x2="188.30" y2="377" stroke="#2a2a2a" stroke-width="0.85"/>
<line x1="203.60" y1="377" x2="207.20" y2="377" stroke="#2a2a2a" stroke-width="0.85"/>
<line x1="205.4" y1="375.20" x2="205.4" y2="378.80" stroke="#2a2a2a" stroke-width="0.85"/>
<line x1="222.90" y1="377" x2="226.50" y2="377" stroke="#2a2a2a" stroke-width="0.85"/>
<line x1="224.7" y1="375.20" x2="224.7" y2="378.80" stroke="#2a2a2a" stroke-width="0.85"/>
<path d="M31,15.05 V98.2 H114.5" fill="none" stroke="#000" stroke-width="1.3" stroke-linejoin="miter"/>
<path d="M153.6,14.65 V98.2 H238.2" fill="none" stroke="#000" stroke-width="1.3" stroke-linejoin="miter"/>
<path d="M277.7,14.05 V97.9 H362.5" fill="none" stroke="#000" stroke-width="1.3" stroke-linejoin="miter"/>
<path d="M30.8,144.95 V228.1 H114.3" fill="none" stroke="#000" stroke-width="1.3" stroke-linejoin="miter"/>
<path d="M154.7,144.95 V228.1 H237" fill="none" stroke="#000" stroke-width="1.3" stroke-linejoin="miter"/>
<path d="M278.5,144.95 V228.3 H362.6" fill="none" stroke="#000" stroke-width="1.3" stroke-linejoin="miter"/>
<path d="M408.7,144.45 V227.9 H493.1" fill="none" stroke="#000" stroke-width="1.3" stroke-linejoin="miter"/>
<path d="M31,276.15 V359.4 H113.8" fill="none" stroke="#000" stroke-width="1.3" stroke-linejoin="miter"/>
<path d="M154.8,275.15 V358.6 H237" fill="none" stroke="#000" stroke-width="1.3" stroke-linejoin="miter"/>
<path d="M282.2,271.85 V357.3 H411.85" fill="none" stroke="#000" stroke-width="1.3"/>
<line x1="278.80" y1="357.30" x2="282.2" y2="357.30" stroke="#000" stroke-width="1.3"/>
<text x="277.50" y="360.00" text-anchor="end" font-size="7.6">0</text>
<line x1="278.80" y1="336.10" x2="282.2" y2="336.10" stroke="#000" stroke-width="1.3"/>
<text x="277.50" y="338.80" text-anchor="end" font-size="7.6">500</text>
<line x1="278.80" y1="314.90" x2="282.2" y2="314.90" stroke="#000" stroke-width="1.3"/>
<text x="277.50" y="317.60" text-anchor="end" font-size="7.6">1,000</text>
<line x1="278.80" y1="293.70" x2="282.2" y2="293.70" stroke="#000" stroke-width="1.3"/>
<text x="277.50" y="296.40" text-anchor="end" font-size="7.6">1,500</text>
<line x1="278.80" y1="272.50" x2="282.2" y2="272.50" stroke="#000" stroke-width="1.3"/>
<text x="277.50" y="275.20" text-anchor="end" font-size="7.6">2,000</text>
<line x1="282.50" y1="357.3" x2="282.50" y2="360.90000000000003" stroke="#000" stroke-width="1.3"/>
<text x="282.50" y="371.3" text-anchor="middle" font-size="7.6">0</text>
<line x1="308.25" y1="357.3" x2="308.25" y2="360.90000000000003" stroke="#000" stroke-width="1.3"/>
<text x="308.25" y="371.3" text-anchor="middle" font-size="7.6">5</text>
<line x1="334.00" y1="357.3" x2="334.00" y2="360.90000000000003" stroke="#000" stroke-width="1.3"/>
<text x="334.00" y="371.3" text-anchor="middle" font-size="7.6">10</text>
<line x1="359.75" y1="357.3" x2="359.75" y2="360.90000000000003" stroke="#000" stroke-width="1.3"/>
<text x="359.75" y="371.3" text-anchor="middle" font-size="7.6">15</text>
<line x1="385.50" y1="357.3" x2="385.50" y2="360.90000000000003" stroke="#000" stroke-width="1.3"/>
<text x="385.50" y="371.3" text-anchor="middle" font-size="7.6">20</text>
<line x1="411.25" y1="357.3" x2="411.25" y2="360.90000000000003" stroke="#000" stroke-width="1.3"/>
<text x="411.25" y="371.3" text-anchor="middle" font-size="7.6">25</text>
<text x="346.1" y="379.6" text-anchor="middle" font-size="7.75">Time after tumor inoculation (days)</text>
<text transform="translate(254.3,314.6) rotate(-90)" text-anchor="middle" font-size="7.75">Tumor volume (mm<tspan dy="-2.7" font-size="5.1">3</tspan><tspan dy="2.7">)</tspan></text>
<text x="239.6" y="268.8" class="L" font-size="13" font-weight="bold" fill="#000">G</text>
<polyline points="282.50,357.30 318.55,355.52 334.00,353.06 349.45,351.28 364.90,352.13 380.35,352.59 395.80,353.40" fill="none" stroke="#c2202c" stroke-width="1.4" stroke-linejoin="round"/>
<polygon points="280.70,355.77 284.30,355.77 282.50,358.98" fill="#c2202c"/>
<polygon points="316.75,353.99 320.35,353.99 318.55,357.20" fill="#c2202c"/>
<polygon points="332.20,351.53 335.80,351.53 334.00,354.74" fill="#c2202c"/>
<polygon points="347.65,349.75 351.25,349.75 349.45,352.96" fill="#c2202c"/>
<polygon points="363.10,350.60 366.70,350.60 364.90,353.81" fill="#c2202c"/>
<polygon points="378.55,351.06 382.15,351.06 380.35,354.28" fill="#c2202c"/>
<polygon points="394.00,351.87 397.60,351.87 395.80,355.08" fill="#c2202c"/>
<line x1="401.4" y1="314" x2="414.2" y2="314" stroke="#c2202c" stroke-width="1.05"/>
<polygon points="405.20,312.09 410.40,312.09 407.80,316.73" fill="#c2202c"/>
<text x="416.1" y="316.4" font-size="6.65">cGAMP + Podofilox + PD-L1</text>
<polyline points="282.50,357.30 318.55,355.52 334.00,353.06 349.45,351.02 364.90,350.39 380.35,350.01 395.80,347.29" fill="none" stroke="#ee4a50" stroke-width="1.4" stroke-linejoin="round"/>
<polygon points="280.70,355.77 284.30,355.77 282.50,358.98" fill="#ee4a50"/>
<polygon points="316.75,353.99 320.35,353.99 318.55,357.20" fill="#ee4a50"/>
<polygon points="332.20,351.53 335.80,351.53 334.00,354.74" fill="#ee4a50"/>
<polygon points="347.65,349.49 351.25,349.49 349.45,352.71" fill="#ee4a50"/>
<polygon points="363.10,348.86 366.70,348.86 364.90,352.07" fill="#ee4a50"/>
<polygon points="378.55,348.48 382.15,348.48 380.35,351.69" fill="#ee4a50"/>
<polygon points="394.00,345.76 397.60,345.76 395.80,348.98" fill="#ee4a50"/>
<line x1="401.4" y1="304" x2="414.2" y2="304" stroke="#ee4a50" stroke-width="1.05"/>
<polygon points="405.20,302.09 410.40,302.09 407.80,306.73" fill="#ee4a50"/>
<text x="416.1" y="306.4" font-size="6.65">cGAMP + Podofilox</text>
<polyline points="282.50,357.30 318.55,355.39 334.00,352.85 349.45,350.94 364.90,347.21 380.35,342.46 395.80,333.34" fill="none" stroke="#000000" stroke-width="1.4" stroke-linejoin="round"/>
<circle cx="282.50" cy="357.30" r="1.8" fill="#000000"/>
<circle cx="318.55" cy="355.39" r="1.8" fill="#000000"/>
<circle cx="334.00" cy="352.85" r="1.8" fill="#000000"/>
<circle cx="349.45" cy="350.94" r="1.8" fill="#000000"/>
<path d="M364.90,346.57 V347.84 M363.40,346.57 h3 M363.40,347.84 h3" stroke="#000000" stroke-width="0.85" fill="none"/>
<circle cx="364.90" cy="347.21" r="1.8" fill="#000000"/>
<path d="M380.35,341.19 V343.73 M378.85,341.19 h3 M378.85,343.73 h3" stroke="#000000" stroke-width="0.85" fill="none"/>
<circle cx="380.35" cy="342.46" r="1.8" fill="#000000"/>
<path d="M395.80,330.16 V336.52 M394.30,330.16 h3 M394.30,336.52 h3" stroke="#000000" stroke-width="0.85" fill="none"/>
<circle cx="395.80" cy="333.34" r="1.8" fill="#000000"/>
<line x1="401.4" y1="294" x2="414.2" y2="294" stroke="#000000" stroke-width="1.05"/>
<circle cx="407.80" cy="294.00" r="2.25" fill="#000000"/>
<text x="416.1" y="296.4" font-size="6.65">cGAMP</text>
<polyline points="282.50,357.30 318.55,355.39 334.00,352.72 349.45,346.49 364.90,341.82 380.35,332.50 395.80,314.73" fill="none" stroke="#7b3f9a" stroke-width="1.4" stroke-linejoin="round"/>
<polygon points="280.70,355.77 284.30,355.77 282.50,358.98" fill="#7b3f9a"/>
<polygon points="316.75,353.86 320.35,353.86 318.55,357.07" fill="#7b3f9a"/>
<polygon points="332.20,351.19 335.80,351.19 334.00,354.40" fill="#7b3f9a"/>
<path d="M349.45,345.98 V347.00 M347.95,345.98 h3 M347.95,347.00 h3" stroke="#7b3f9a" stroke-width="0.85" fill="none"/>
<polygon points="347.65,344.96 351.25,344.96 349.45,348.17" fill="#7b3f9a"/>
<path d="M364.90,340.98 V342.67 M363.40,340.98 h3 M363.40,342.67 h3" stroke="#7b3f9a" stroke-width="0.85" fill="none"/>
<polygon points="363.10,340.29 366.70,340.29 364.90,343.51" fill="#7b3f9a"/>
<path d="M380.35,331.01 V333.98 M378.85,331.01 h3 M378.85,333.98 h3" stroke="#7b3f9a" stroke-width="0.85" fill="none"/>
<polygon points="378.55,330.97 382.15,330.97 380.35,334.18" fill="#7b3f9a"/>
<path d="M395.80,311.76 V317.70 M394.30,311.76 h3 M394.30,317.70 h3" stroke="#7b3f9a" stroke-width="0.85" fill="none"/>
<polygon points="394.00,313.20 397.60,313.20 395.80,316.41" fill="#7b3f9a"/>
<line x1="401.4" y1="284" x2="414.2" y2="284" stroke="#7b3f9a" stroke-width="1.05"/>
<polygon points="405.20,282.09 410.40,282.09 407.80,286.73" fill="#7b3f9a"/>
<text x="416.1" y="286.4" font-size="6.65">PD-L1</text>
<polyline points="282.50,357.30 318.55,355.26 334.00,352.55 349.45,346.19 364.90,339.92 380.35,325.08 395.80,300.70" fill="none" stroke="#2a4ba0" stroke-width="1.4" stroke-linejoin="round"/>
<rect x="280.70" y="355.50" width="3.6" height="3.6" fill="#2a4ba0"/>
<rect x="316.75" y="353.46" width="3.6" height="3.6" fill="#2a4ba0"/>
<rect x="332.20" y="350.75" width="3.6" height="3.6" fill="#2a4ba0"/>
<path d="M349.45,345.56 V346.83 M347.95,345.56 h3 M347.95,346.83 h3" stroke="#2a4ba0" stroke-width="0.85" fill="none"/>
<rect x="347.65" y="344.39" width="3.6" height="3.6" fill="#2a4ba0"/>
<path d="M364.90,338.64 V341.19 M363.40,338.64 h3 M363.40,341.19 h3" stroke="#2a4ba0" stroke-width="0.85" fill="none"/>
<rect x="363.10" y="338.12" width="3.6" height="3.6" fill="#2a4ba0"/>
<path d="M380.35,322.53 V327.62 M378.85,322.53 h3 M378.85,327.62 h3" stroke="#2a4ba0" stroke-width="0.85" fill="none"/>
<rect x="378.55" y="323.28" width="3.6" height="3.6" fill="#2a4ba0"/>
<path d="M395.80,295.82 V305.57 M394.30,295.82 h3 M394.30,305.57 h3" stroke="#2a4ba0" stroke-width="0.85" fill="none"/>
<rect x="394.00" y="298.90" width="3.6" height="3.6" fill="#2a4ba0"/>
<line x1="401.4" y1="274" x2="414.2" y2="274" stroke="#2a4ba0" stroke-width="1.05"/>
<rect x="405.55" y="271.75" width="4.5" height="4.5" fill="#2a4ba0"/>
<text x="416.1" y="276.4" font-size="6.65">Podofilox</text>
<polyline points="282.50,357.30 318.55,355.26 334.00,352.55 349.45,346.06 364.90,339.49 380.35,320.84 395.80,289.88" fill="none" stroke="#6e6e6e" stroke-width="1.4" stroke-linejoin="round"/>
<circle cx="282.50" cy="357.30" r="1.8" fill="#6e6e6e"/>
<circle cx="318.55" cy="355.26" r="1.8" fill="#6e6e6e"/>
<circle cx="334.00" cy="352.55" r="1.8" fill="#6e6e6e"/>
<path d="M349.45,345.43 V346.70 M347.95,345.43 h3 M347.95,346.70 h3" stroke="#6e6e6e" stroke-width="0.85" fill="none"/>
<circle cx="349.45" cy="346.06" r="1.8" fill="#6e6e6e"/>
<path d="M364.90,338.22 V340.76 M363.40,338.22 h3 M363.40,340.76 h3" stroke="#6e6e6e" stroke-width="0.85" fill="none"/>
<circle cx="364.90" cy="339.49" r="1.8" fill="#6e6e6e"/>
<path d="M380.35,318.29 V323.38 M378.85,318.29 h3 M378.85,323.38 h3" stroke="#6e6e6e" stroke-width="0.85" fill="none"/>
<circle cx="380.35" cy="320.84" r="1.8" fill="#6e6e6e"/>
<path d="M395.80,284.80 V294.97 M394.30,284.80 h3 M394.30,294.97 h3" stroke="#6e6e6e" stroke-width="0.85" fill="none"/>
<circle cx="395.80" cy="289.88" r="1.8" fill="#6e6e6e"/>
<line x1="401.4" y1="264" x2="414.2" y2="264" stroke="#6e6e6e" stroke-width="1.05"/>
<circle cx="407.80" cy="264.00" r="2.25" fill="#6e6e6e"/>
<text x="416.1" y="266.4" font-size="6.65">Ctrl</text>
<path d="M444.6,264 H448.2 V272.8 H444.6" fill="none" stroke="#111" stroke-width="0.9"/>
<text transform="translate(453.40,268.4) rotate(-90)" text-anchor="middle" font-size="6.2" fill="#222">n.s.</text>
<path d="M455.2,264 H459 V293.3 H455.2" fill="none" stroke="#111" stroke-width="0.9"/>
<text transform="translate(464.40,278.65) rotate(-90)" text-anchor="middle" font-size="5.3" font-weight="bold" letter-spacing="0.35" fill="#111">****</text>
<path d="M474.8,293.8 H478.5 V303.6 H474.8" fill="none" stroke="#111" stroke-width="0.9"/>
<text transform="translate(484.00,298.70000000000005) rotate(-90)" text-anchor="middle" font-size="5.3" font-weight="bold" letter-spacing="0.35" fill="#111">**</text>
<path d="M484.9,283.4 H488.5 V303.6 H484.9" fill="none" stroke="#111" stroke-width="0.9"/>
<text transform="translate(494.00,293.5) rotate(-90)" text-anchor="middle" font-size="5.3" font-weight="bold" letter-spacing="0.35" fill="#111">****</text>
<path d="M501.4,304.1 H505 V313.7 H501.4" fill="none" stroke="#111" stroke-width="0.9"/>
<text transform="translate(509.70,308.9) rotate(-90)" text-anchor="middle" font-size="6.2" fill="#222">n.s.</text>
<path d="M512.3,282.5 H516 V313.7 H512.3" fill="none" stroke="#111" stroke-width="0.9"/>
<text transform="translate(521.00,298.1) rotate(-90)" text-anchor="middle" font-size="5.3" font-weight="bold" letter-spacing="0.35" fill="#111">****</text>
</svg>
</body></html>
